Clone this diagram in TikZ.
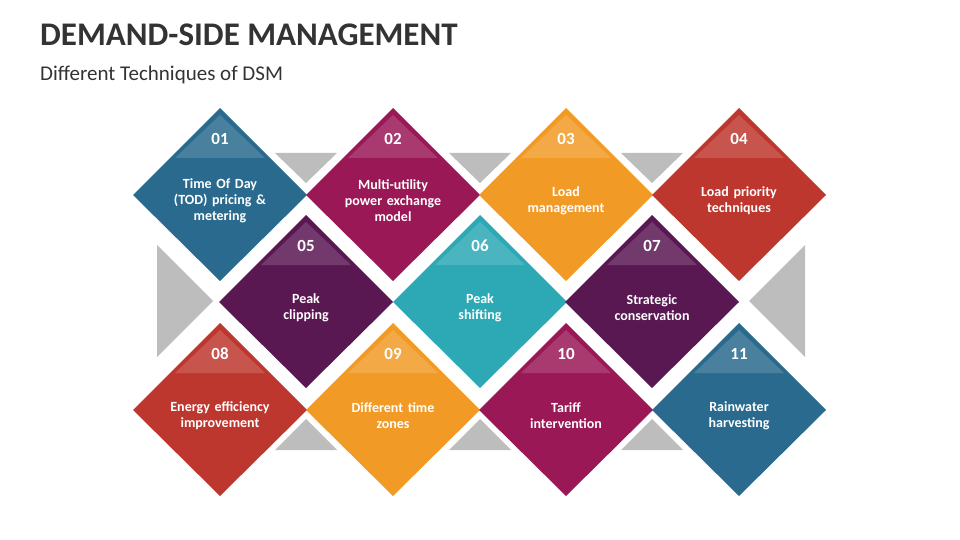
\documentclass[tikz,border=0pt]{standalone}
\usepackage{fontspec}
\setmainfont{Carlito}
\definecolor{cblue}{HTML}{2A6A8E}
\definecolor{cmag}{HTML}{9A1856}
\definecolor{corg}{HTML}{F29A26}
\definecolor{cred}{HTML}{BE372F}
\definecolor{cpur}{HTML}{5A1853}
\definecolor{cteal}{HTML}{2CA9B4}
\definecolor{cgray}{HTML}{BDBDBD}
\definecolor{ctitle}{HTML}{333333}
\tikzset{
 dtext/.style={text=white,font=\bfseries\fontsize{14}{16}\selectfont,align=center,text width=120pt},
 dnum/.style={text=white,font=\bfseries\fontsize{17}{19}\selectfont},
 gtri/.style={fill=cgray,draw=none}
}
\newcommand{\dia}[6]{% x y color num text name
 \fill[#3] (#1,#2-87) -- (#1+87,#2) -- (#1,#2+86) -- (#1-87,#2) -- cycle;
 \fill[white,opacity=0.15] (#1,#2-80) -- (#1+45,#2-37) -- (#1-45,#2-37) -- cycle;
 \node[dnum] (#6n) at (#1,#2-56) {#4};
 \node[dtext] (#6) at (#1,#2+6) {#5};
}
\begin{document}
\begin{tikzpicture}[x=1pt,y=-1pt]
\useasboundingbox (0,0) rectangle (960,540);
\node[anchor=base west,text=ctitle,font=\bfseries\fontsize{33}{36}\selectfont,inner sep=0] (title) at (40,46) {DEMAND-SIDE MANAGEMENT};
\node[anchor=base west,text=ctitle,font=\fontsize{21}{24}\selectfont,inner sep=0] (sub) at (40,81) {Different Techniques of DSM};
% gray triangles
\foreach \x in {306,480,652}{
 \fill[gtri] (\x-31,153) -- (\x+31,153) -- (\x,183) -- cycle;
 \fill[gtri] (\x-31,450) -- (\x+31,450) -- (\x,419) -- cycle;
}
\fill[gtri] (157,245) -- (157,357) -- (213,301) -- cycle;
\fill[gtri] (805,245) -- (805,357) -- (749,301) -- cycle;
\dia{220}{195}{cblue}{01}{Time Of Day\\(TOD) pricing \&\\metering}{d1}
\dia{393}{195}{cmag}{02}{Multi-utility\\power exchange\\model}{d2}
\dia{566}{195}{corg}{03}{Load\\management}{d3}
\dia{739}{195}{cred}{04}{Load priority\\techniques}{d4}
\dia{306}{302}{cpur}{05}{Peak\\clipping}{d5}
\dia{480}{302}{cteal}{06}{Peak\\shifting}{d6}
\dia{652}{302}{cpur}{07}{Strategic\\conservation}{d7}
\dia{220}{410}{cred}{08}{Energy efficiency\\improvement}{d8}
\dia{393}{410}{corg}{09}{Different time\\zones}{d9}
\dia{566}{410}{cmag}{10}{Tariff\\intervention}{d10}
\dia{739}{410}{cblue}{11}{Rainwater\\harvesting}{d11}
\end{tikzpicture}
\end{document}
